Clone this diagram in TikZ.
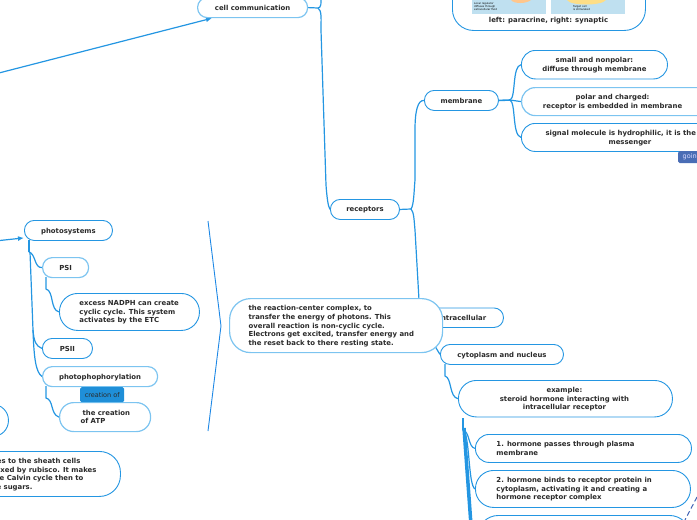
\documentclass[tikz,border=0pt]{standalone}
\usepackage{fontspec}
\usetikzlibrary{arrows.meta,backgrounds,calc}
\setmainfont{DejaVu Sans}
\definecolor{mblue}{HTML}{2496E2}
\definecolor{lblue}{HTML}{7CC4F0}
\definecolor{ink}{HTML}{2A2A2A}
\definecolor{brace}{HTML}{1E88E5}
\definecolor{gotag}{HTML}{4A6DB5}
\definecolor{crtag}{HTML}{1F8FD8}
\definecolor{dashc}{HTML}{3F62B5}
\definecolor{imgb}{HTML}{BFE0F0}
\tikzset{
  mm/.style={draw=mblue,line width=0.9pt,fill=white,inner sep=0pt},
  lite/.style={mm,draw=lblue,line width=1.2pt},
  lbl/.style={text=ink,font=\bfseries\fontsize{6.9}{8.6}\selectfont,inner sep=0pt},
  link/.style={draw=mblue,line width=1.2pt},
  tiny/.style={font=\fontsize{2.6}{3.1}\selectfont,align=left,anchor=north west,inner sep=0pt},
  tag/.style={fill=#1,rounded corners=1.5pt,inner sep=0pt,font=\fontsize{6.5}{8}\selectfont}
}
\newlength{\mw}
\newcommand{\bx}[8]{% style,name,x1,y1,x2,y2,align,text
  \pgfmathsetmacro{\myr}{min((#6-#4)/2-0.3,21)}
  \pgfmathsetlength{\mw}{#5pt-#3pt}
  \node[#1,rounded corners=\myr pt,minimum width=#5pt-#3pt,minimum height=#6pt-#4pt,anchor=north west] (#2) at (#3,#4) {};
  \node[lbl,align=#7] (#2-t) at ($(#2.center)+(0,0.7)$) {#8};}
\newcommand{\lt}[2]{\makebox[\mw][l]{\hspace*{#1pt}\begin{tabular}{@{}l@{}}#2\end{tabular}}}
\begin{document}
\begin{tikzpicture}[x=1pt,y=-1pt]
\useasboundingbox (0,0) rectangle (697,520);
\coordinate (a1) at (-5,74);
\coordinate (a2) at (-5,241);
\coordinate (up) at (320,-5);
\coordinate (b2) at (470,525);
\coordinate (b3) at (471,525);
\coordinate (b4) at (472,525);
\coordinate (d1) at (697,497);
\coordinate (d2) at (685,520);
\coordinate (br1) at (208,221);
\coordinate (br2) at (221,326);
\coordinate (br3) at (208,431);
% top image card
\bx{mm}{top}{452}{-40}{645}{30}{center}{}
\fill[imgb] (472,0) rectangle (546,14);
\fill[imgb] (551,0) rectangle (625,14);
\fill[orange!45] (511,0) .. controls (514,4) and (526,4) .. (531,0) -- cycle;
\fill[yellow!50!orange!45] (567,0) .. controls (570,6) and (602,6) .. (606,0) -- cycle;
\node[tiny] (t1) at (474,2) {Local regulator\\diffuses through\\extracellular fluid};
\node[tiny] (t2) at (573,5.5) {Target cell\\is stimulated};
\node[lbl] (cap) at (548.5,21) {left: paracrine, right: synaptic};
% nodes
\bx{lite}{cc}{197}{-3}{307}{17}{center}{cell communication}
\bx{mm}{rec}{330}{199}{399}{219}{center}{receptors}
\bx{mm}{mem}{424}{90}{498}{110}{center}{membrane}
\bx{mm}{small}{521}{50}{667}{78.5}{center}{small and nonpolar:\\diffuse through membrane}
\bx{lite}{polar}{521}{87}{720}{115}{center}{\hspace*{-17pt}polar and charged:\\\hspace*{-17pt}receptor is embedded in membrane}
\bx{mm}{sig}{521}{123}{740}{151}{center}{\hspace*{-2pt}signal molecule is hydrophilic, it is the first\\\hspace*{-2pt}messenger}
\node[tag=gotag,minimum width=30pt,minimum height=12pt,anchor=north west,text=white!85!blue] (go) at (678,151) {\makebox[30pt][l]{\hspace*{4.5pt}going}};
\bx{mm}{intra}{410}{307.5}{503}{327}{center}{\hspace*{11pt}intracellular}
\bx{lite}{rc}{229}{298}{442}{352}{left}{\lt{19}{the reaction-center complex, to\\transfer the energy of photons. This\\overall reaction is non-cyclic cycle.\\Electrons get excited, transfer energy and\\the reset back to there resting state.}}
\bx{mm}{cyto}{440}{344}{563}{364}{center}{cytoplasm and nucleus}
\bx{mm}{ex}{458}{380}{672}{416.5}{center}{\hspace*{-2pt}example:\\\hspace*{-2pt}steroid hormone interacting with\\\hspace*{-2pt}intracellular receptor}
\bx{mm}{one}{475}{434}{691}{462}{left}{\lt{21}{1. hormone passes through plasma\\membrane}}
\bx{mm}{two}{475}{470}{690}{507}{left}{\lt{21}{2. hormone binds to receptor protein in\\cytoplasm, activating it and creating a\\hormone receptor complex}}
\bx{mm}{three}{477}{515}{690}{560}{left}{}
\bx{mm}{photo}{24}{220}{112}{240}{center}{photosystems}
\bx{lite}{psi}{42}{257}{88}{277}{center}{PSI}
\bx{mm}{exc}{59}{293}{199}{330}{left}{\lt{20}{excess NADPH can create\\cyclic cycle. This system\\activates by the ETC}}
\bx{mm}{psii}{42}{338}{92}{358}{center}{PSII}
\bx{lite}{php}{42}{366}{157}{386}{center}{photophophorylation}
\bx{lite}{atp}{59}{402}{150}{431}{left}{\lt{21}{\hspace*{2pt}the creation\\of ATP}}
\node[tag=crtag,minimum width=44pt,minimum height=15pt,anchor=north west,text=ink] (cr) at (80,387) {creation of};
\bx{mm}{part}{-100}{404}{8}{436}{left}{}
\bx{mm}{sheath}{-60}{451}{120}{496}{left}{\lt{60}{\makebox[80pt][r]{es to the sheath cells}\\\makebox[96pt][r]{xed by rubisco. It makes}\\\makebox[83pt][r]{e Calvin cycle then to}\\\makebox[32pt][r]{e sugars.}}}
% connectors
\begin{scope}[on background layer]
\draw[link,-{Latex[length=6pt,width=5pt]}] (a1) -- ($(cc.south west)+(15,0)$);
\draw[link,-{Latex[length=6pt,width=5pt]}] (a2) -- ($(photo.south west)+(0,-3)$);
\draw[link] (cc.east) -- (318,8) .. controls (321,8) and (322,3) .. (up);
\draw[link] (318,8) .. controls (322,10) and (321,20) .. (321,30) -- (326,185) .. controls (327,198) and (328,206) .. (rec.west);
\draw[link] (rec.east) -- (411,209) .. controls (414,205) and (414,190) .. (415,180) -- (415,130) .. controls (415,110) and (418,100) .. (mem.west);
\draw[link] (411,209) .. controls (414,212) and (414,220) .. (415,230) -- (419,300);
\draw[link,line width=1.6pt] (mem.east) -- (510,100);
\draw[link] (510,100) .. controls (516,98) and (512,66) .. (small.west);
\draw[link] (510,100) -- (polar.west);
\draw[link] (510,100) .. controls (516,103) and (512,135) .. (sig.west);
\draw[link] (434,344) .. controls (438,352) and (440,354) .. (cyto.west);
\draw[link] (445,364) -- (445,376) .. controls (452,378) and (449,397) .. (ex.west);
\draw[link,line width=2pt] (463,418) -- (463,430);
\draw[link] (463,430) .. controls (470,432) and (468,447) .. (one.west);
\draw[link] (463,430) .. controls (470,434) and (468,485) .. (two.west);
\draw[link,line width=1.5pt] (463,428) -- (b2);
\draw[link,line width=1.5pt] (464,428) -- (b3);
\draw[link,line width=1.5pt] (465,428) -- (b4);
\draw[link,line width=1.8pt] (29,240) -- (29,252);
\draw[link] (29,252) .. controls (36,254) and (34,268) .. (psi.west);
\draw[link] (30,252) -- (33,330) .. controls (34,342) and (36,346) .. (psii.west);
\draw[link] (33,330) .. controls (34,360) and (36,372) .. (php.west);
\draw[link] (46,277) -- (46,289) .. controls (54,291) and (50,310) .. (exc.west);
\draw[link] (46,386) -- (46,398) .. controls (54,400) and (50,414) .. (atp.west);
\end{scope}
\draw[draw=brace,line width=0.9pt] (br1) -- (br2) -- (br3);
\draw[draw=dashc,line width=1pt,dash pattern=on 5pt off 3pt] (d1) -- (d2);
\end{tikzpicture}
\end{document}
